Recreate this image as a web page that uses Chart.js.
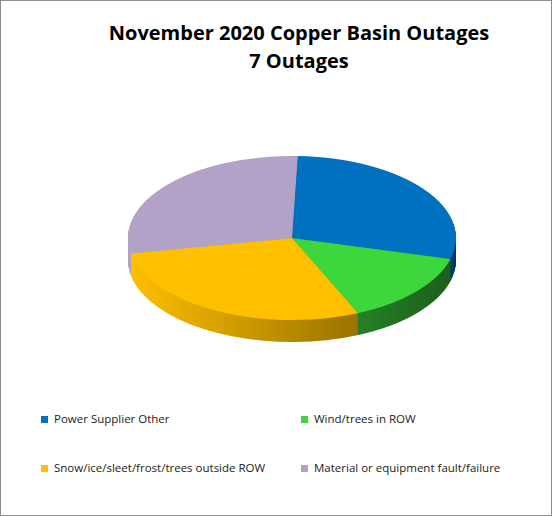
<!DOCTYPE html>
<html>
<head>
<script src="https://cdn.jsdelivr.net/npm/chart.js"></script>
<style>
  body { margin: 0; }
  #frame { position: relative; width: 550px; height: 514px; border: 1px solid #8c8c8c; background: #fff; overflow: hidden; font-family: "Open Sans", sans-serif; }
  #title { position: absolute; top: 18px; left: 0; width: 596px; text-align: center; font-weight: bold; font-size: 20px; line-height: 28px; color: #000; }
  #pieWrap { position: absolute; left: 0; top: 145px; width: 552px; height: 460px; transform: scaleY(0.5); transform-origin: 0 0; }
  .leg { position: absolute; font-size: 11.5px; color: #222; }
  .leg span { display: inline-block; width: 7px; height: 7px; margin-right: 6px; }
</style>
</head>
<body>
<div id="frame">
  <div id="title">November 2020 Copper Basin Outages<br>7 Outages</div>
  <div id="pieWrap"><canvas id="pie" width="552" height="460"></canvas></div>
  <div id="legend"></div>
</div>
<script>
  const labels = ['Power Supplier Other', 'Wind/trees in ROW', 'Snow/ice/sleet/frost/trees outside ROW', 'Material or equipment fault/failure'];
  const outages = [2, 1, 2, 2];
  const colors = ['#0070C0', '#3DD63D', '#FFC000', '#B3A2C7'];
  const sideDark = ['#003a66', '#1c5c1c', '#6e5200', '#5e536b'];

  // legend as html
  const legPos = [[40, 410], [300, 410], [40, 459], [300, 459]];
  const legend = document.getElementById('legend');
  labels.forEach((l, i) => {
    const d = document.createElement('div');
    d.className = 'leg';
    d.style.left = legPos[i][0] + 'px';
    d.style.top = legPos[i][1] + 'px';
    d.innerHTML = '<span style="background:' + colors[i] + '"></span>' + l;
    legend.appendChild(d);
  });

  const depth = 44;
  const sides = {
    id: 'sides',
    beforeDatasetsDraw(chart) {
      const ctx = chart.ctx;
      const arcs = chart.getDatasetMeta(0).data;
      ctx.save();
      for (let d = depth; d > 0; d--) {
        arcs.forEach((a, i) => {
          const g = ctx.createLinearGradient(a.x - a.outerRadius, 0, a.x + a.outerRadius, 0);
          g.addColorStop(0, colors[i]);
          g.addColorStop(1, sideDark[i]);
          ctx.fillStyle = g;
          ctx.beginPath();
          ctx.moveTo(a.x, a.y + d);
          ctx.arc(a.x, a.y + d, a.outerRadius, a.startAngle, a.endAngle);
          ctx.closePath();
          ctx.fill();
        });
      }
      ctx.restore();
    }
  };

  new Chart(document.getElementById('pie').getContext('2d'), {
    type: 'pie',
    data: {
      labels: labels,
      datasets: [{ data: outages, backgroundColor: colors, borderWidth: 0 }]
    },
    options: {
      responsive: false,
      animation: false,
      rotation: 2,
      layout: { padding: { left: 30, right: 0, top: 20, bottom: 112 } },
      plugins: { legend: { display: false }, tooltip: { enabled: false } }
    },
    plugins: [sides]
  });
</script>
</body>
</html>
